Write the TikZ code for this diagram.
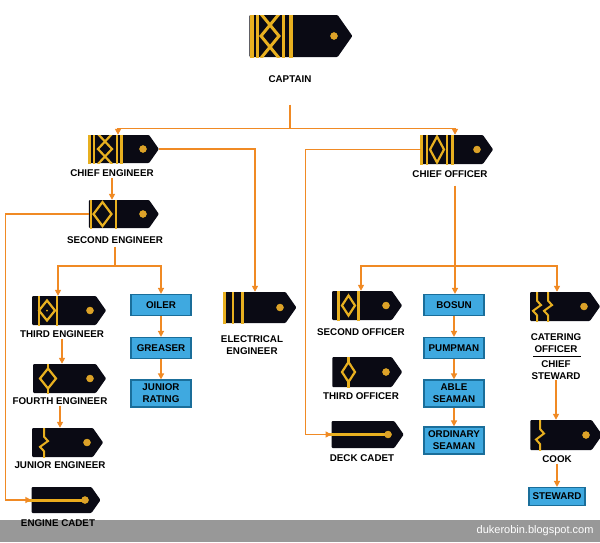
\documentclass[tikz,border=0pt]{standalone}
\usepackage{fontspec}
\setmainfont{Liberation Sans}
\usetikzlibrary{shapes.symbols,arrows.meta,calc}
\definecolor{gold}{HTML}{E8B020}
\definecolor{ora}{HTML}{F08A24}
\definecolor{boxb}{HTML}{3FA9E0}
\definecolor{boxd}{HTML}{1A6E9A}
\definecolor{epk}{HTML}{0A0A14}
\newcommand{\ep}[6]{%
  \begin{scope}[shift={(#2,#3)}]
    \node[epau,minimum width=#4pt,minimum height=#5pt] (#1) at ({#4/2},{#5/2}) {};
    \begin{scope}
      \clip (0,0) rectangle ({#4-8},#5);
      #6
    \end{scope}
    \fill[gold!70!brown,draw=gold] ({#4-11},{#5/2}) circle (3.5);
  \end{scope}}
\newcommand{\vb}[2]{\fill[gold] (#1,-1) rectangle ({#1+#2},60);}
\newcommand{\dia}[4]{\draw[gold,line width=2.2pt,fill=epk] (#1,{#2-#4/2})--({#1+#3/2},#2)--(#1,{#2+#4/2})--({#1-#3/2},#2)--cycle;}
\newcommand{\zig}[2]{\draw[gold,line width=2pt] (#1,-1)--(#1,{#2*0.3})--({#1+4},{#2*0.45})--({#1-4},{#2*0.65})--(#1,{#2*0.8})--(#1,{#2+1});}
\begin{document}
\begin{tikzpicture}[x=1pt,y=-1pt,
  epau/.style={signal,signal to=east,signal pointer angle=110,fill=epk,draw=none,inner sep=0pt,rounded corners=1pt},
  lab/.style={font=\bfseries\fontsize{9.8}{11.5}\selectfont,align=center,inner sep=1pt},
  bx/.style={lab,font=\bfseries\fontsize{9.8}{12}\selectfont,fill=boxb,draw=boxd,line width=1.2pt,minimum width=60pt,minimum height=21pt,inner sep=1pt},
  ln/.style={ora,line width=1.5pt},
  ar/.style={ln,-{Triangle[width=6pt,length=6pt]}}]
\useasboundingbox (0,0) rectangle (600,542);
\fill[gray!85!black!70] (0,520) rectangle (600,542);
\node[white,anchor=east,font=\fontsize{11}{12}\selectfont] (wm) at (597,531) {dukerobin.blogspot.com};
% epaulettes
\ep{cap}{242}{15}{103}{42}{\vb{8}{4}\vb{14}{3}\vb{40}{3}\vb{47}{4}
  \draw[gold,line width=3pt] (19,-1)--(37,21)--(19,43) (37,-1)--(19,21)--(37,43);}
\ep{ce}{84}{135}{70}{28}{\vb{4}{3}\vb{9}{2}\vb{32}{2}\vb{36}{3}
  \draw[gold,line width=2.2pt] (14,-1)--(28,14)--(14,29) (28,-1)--(14,14)--(28,29);}
\ep{co}{416}{135}{72}{29}{\vb{4}{3}\vb{10}{2}\vb{30}{2}\vb{35}{3}\dia{21}{14.5}{14}{26}}
\ep{se}{84}{200}{70}{28}{\vb{6}{2}\vb{31}{2}\dia{18.5}{14}{18}{24}\fill[epk](18.5,14) circle(2);}
\ep{te}{27}{296}{74}{29}{\vb{11}{2}\vb{29}{2}\dia{20}{14.5}{16}{20}\fill[gold](20,14.5) circle(1);}
\ep{fe}{28}{364}{73}{29}{\vb{19}{2}\dia{20}{14.5}{16}{20}\fill[epk](20,14.5) circle(2);}
\ep{je}{27}{428}{71}{29}{\zig{17}{29}}
\ep{ec}{27}{487}{69}{26}{\fill[gold!90!orange](0,12) rectangle (69,14.5);}
\ep{el}{219}{292}{72}{31}{\vb{4}{3}\vb{13}{2}\vb{22}{3}}
\ep{so}{327}{291}{70}{29}{\vb{10}{3}\vb{30}{3}\dia{21.5}{14.5}{13}{20}}
\ep{to}{327}{357}{70}{30}{\vb{20}{3}\dia{21.5}{15}{13}{20}}
\ep{dc}{327}{421}{72}{27}{\fill[gold](0,12) rectangle (72,14.5);}
\ep{cat}{525}{292}{70}{29}{\zig{12}{29}\zig{23}{29}}
\ep{cook}{525}{420}{72}{30}{\zig{15}{30}}
% labels
\node[lab] (capL) at (290,79) {CAPTAIN};
\node[lab] (ceL) at (112,173) {CHIEF ENGINEER};
\node[lab] (coL) at (450,174) {CHIEF OFFICER};
\node[lab] (seL) at (115,240) {SECOND ENGINEER};
\node[lab] (teL) at (62,334) {THIRD ENGINEER};
\node[lab] (feL) at (60,401) {FOURTH ENGINEER};
\node[lab] (jeL) at (60,465) {JUNIOR ENGINEER};
\node[lab] (ecL) at (58,523) {ENGINE CADET};
\node[lab] (elL) at (252,345) {ELECTRICAL\\ENGINEER};
\node[lab] (soL) at (361,332) {SECOND OFFICER};
\node[lab] (toL) at (361,396) {THIRD OFFICER};
\node[lab] (dcL) at (362,458) {DECK CADET};
\node[lab] (catL) at (556,343) {CATERING\\OFFICER};
\node[lab] (csL) at (556,370) {CHIEF\\STEWARD};
\draw[black,line width=0.7pt] (533,356) -- (581,356);
\node[lab] (cookL) at (557,459) {COOK};
% boxes
\node[bx] (oil) at (161,305) {OILER};
\node[bx] (gre) at (161,348) {GREASER};
\node[bx,minimum height=27pt] (jr) at (161,393.5) {JUNIOR\\RATING};
\node[bx] (bos) at (454,305) {BOSUN};
\node[bx] (pum) at (454,348) {PUMPMAN};
\node[bx,minimum height=27pt] (abl) at (454,393.5) {ABLE\\SEAMAN};
\node[bx,minimum height=27pt] (ord) at (454,440.5) {ORDINARY\\SEAMAN};
\node[bx,minimum width=56pt,minimum height=18pt] (stw) at (557,496.5) {STEWARD};
% connectors
\draw[ar] (capL.south) ++(0,21) -- ++(0,24) -| ([xshift=-1pt]ce.north);
\draw[ar] (capL.south) ++(0,45) -| ([xshift=3pt]co.north);
\draw[ar] (ce.east) -| (el.north);
\draw[ar] (co.west) -| ($(dc.west)+(-26,0)$) -- (dc.west);
\draw[ar] (ceL.south) -- (se.north -| ceL.south);
\draw[ar] (se.west) -| ($(ec.west)+(-26,0)$) -- (ec.west);
\draw[ln] (seL.south) ++(0,2) -- ++(0,19);
\draw[ar] (115,266) -| ([xshift=-6pt]te.north);
\draw[ar] (115,266) -| (oil.north);
\draw[ar] (teL.south) -- (fe.north -| teL.south);
\draw[ar] (feL.south) -- (je.north -| feL.south);
\draw[ar] (oil.south) -- (gre.north);
\draw[ar] (gre.south) -- (jr.north);
\draw[ln] (coL.south) ++(5,7) -- (455,266);
\draw[ar] (455,266) -| ([xshift=-1pt]so.north);
\draw[ar] (455,266) -- (bos.north -| 455,0);
\draw[ar] (455,266) -| ([xshift=-3pt]cat.north);
\draw[ar] (bos.south) -- (pum.north);
\draw[ar] (pum.south) -- (abl.north);
\draw[ar] (abl.south) -- (ord.north);
\draw[ar] (csL.south) -- (cook.north -| csL.south);
\draw[ar] (cookL.south) -- (stw.north);
\end{tikzpicture}
\end{document}
